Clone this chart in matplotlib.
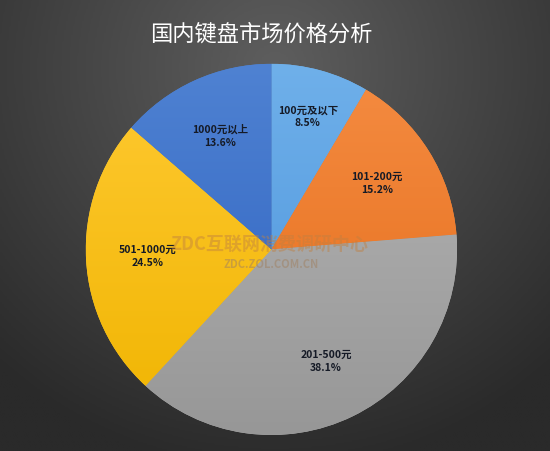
import numpy as np
import matplotlib
matplotlib.use('Agg')
import matplotlib.pyplot as plt
from matplotlib.colors import LinearSegmentedColormap

plt.rcParams['font.family'] = ['Noto Sans CJK SC', 'DejaVu Sans']

title = '国内键盘市场价格分析'
categories = ['100元及以下', '101-200元', '201-500元', '501-1000元', '1000元以上']
shares = [8.5, 15.2, 38.1, 24.5, 13.6]
# (top colour, bottom colour) for each wedge gradient
wedge_colors = [('#6fb0ea', '#4a92da'),
                ('#f58c42', '#e36b18'),
                ('#b6b6b6', '#979797'),
                ('#ffca33', '#f0b400'),
                ('#4f82d2', '#2c60bf')]

fig = plt.figure(figsize=(5.5, 4.51), dpi=100)

# dark background with soft light near the top
bg = fig.add_axes([0, 0, 1, 1])
yy, xx = np.mgrid[0:1:300j, 0:1:300j]
dist = np.sqrt(((xx - 0.5) / 0.75) ** 2 + ((yy - 0.15) / 0.9) ** 2)
bg_cmap = LinearSegmentedColormap.from_list('bg', ['#5e5e5e', '#444444', '#2a2a2a'])
bg.imshow(dist, cmap=bg_cmap, vmin=0, vmax=1.0, extent=[0, 1, 0, 1],
          origin='upper', aspect='auto')
bg.axis('off')

ax = fig.add_axes([0.156, 0.0355, 0.675, 0.823])
wedges, texts = ax.pie(shares, startangle=90, counterclock=False,
                       colors=[c[0] for c in wedge_colors], radius=1.0,
                       wedgeprops=dict(linewidth=0))
ax.set_xlim(-1, 1)
ax.set_ylim(-1, 1)
ax.set_aspect('equal')
ax.axis('off')

grad = np.linspace(0, 1, 256).reshape(-1, 1)
for w, (c_top, c_bot) in zip(wedges, wedge_colors):
    cm = LinearSegmentedColormap.from_list('w', [c_top, c_bot])
    im = ax.imshow(grad, cmap=cm, extent=[-1, 1, -1, 1], origin='upper',
                   aspect='auto', zorder=2)
    im.set_clip_path(w)

# data labels
total = sum(shares)
start = 90.0
for cat, val in zip(categories, shares):
    theta = np.deg2rad(start - val / total * 360 / 2)
    start -= val / total * 360
    r = 0.74 if val < 10 else 0.67
    ax.text(r * np.cos(theta), r * np.sin(theta), '%s\n%.1f%%' % (cat, val),
            ha='center', va='center', fontsize=7.5, fontweight='bold',
            color='#151a26', linespacing=1.35, zorder=5)

fig.text(0.475, 0.925, title, ha='center', va='center', fontsize=16,
         color='white')

# watermark
fig.text(0.49, 0.458, 'ZDC互联网消费调研中心', ha='center', va='center',
         fontsize=13, fontweight='bold', color='#c08040', alpha=0.45, zorder=10)
fig.text(0.493, 0.413, 'ZDC.ZOL.COM.CN', ha='center', va='center',
         fontsize=8, fontweight='bold', color='#a08060', alpha=0.5, zorder=10)

fig.savefig('out.png', dpi=100)
